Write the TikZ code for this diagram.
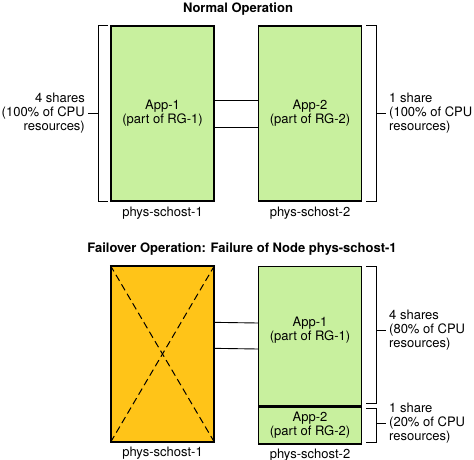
\documentclass[tikz,border=0pt]{standalone}
\usepackage{fontspec}
\setmainfont{TeX Gyre Heros}
\usetikzlibrary{positioning}
\definecolor{appgreen}{RGB}{200,240,158}
\definecolor{failorange}{RGB}{255,196,24}

\begin{document}
\begin{tikzpicture}[x=1pt, y=-1pt,
    every node/.style={font=\fontsize{13}{14}\selectfont, inner sep=0pt},
    hostbox/.style={draw, line width=1.3pt, fill=appgreen, minimum width=103pt, align=center},
    failbox/.style={hostbox, fill=failorange},
    title/.style={font=\fontsize{13}{14}\selectfont\bfseries},
    hostname/.style={below=5pt},
    bracketline/.style={line width=1pt},
    link/.style={line width=0.9pt}]
    \useasboundingbox (0,0) rectangle (474,460);

    % Normal operation
    \node[title] (title_normal) at (238,9) {Normal Operation};
    \node[hostbox, minimum height=175pt] (app1) at (162.5,113.5) {App-1\\(part of RG-1)};
    \node[hostbox, minimum height=175pt] (app2) at (310,113.5) {App-2\\(part of RG-2)};
    \node[hostname, below=5pt of app1] (host1) {phys-schost-1};
    \node[hostname, below=5pt of app2] (host2) {phys-schost-2};
    \draw[link] ([yshift=13.5pt]app1.east) -- ([yshift=13.5pt]app2.west);
    \draw[link] ([yshift=-13.5pt]app1.east) -- ([yshift=-13.5pt]app2.west);

    % brackets
    \draw[bracketline] (108,26) -- (98,26) -- (98,201) -- (108,201);
    \draw[bracketline] (98,113) -- (88,113);
    \draw[bracketline] (366,26) -- (376,26) -- (376,201) -- (366,201);
    \draw[bracketline] (376,113) -- (386,113);
    \node[anchor=east, align=right] (share_a1) at (85,113) {4 shares\\(100\% of CPU\\resources)};
    \node[anchor=west, align=left] (share_a2) at (389,113) {1 share\\(100\% of CPU\\resources)};

    % Failover operation
    \node[title] (title_fail) at (242,249) {Failover Operation: Failure of Node phys-schost-1};
    \node[failbox, minimum height=176pt] (dead) at (162.5,354) {};
    \draw[dashed, dash pattern=on 7pt off 4pt, line width=1pt] (dead.north west) -- (dead.south east);
    \draw[dashed, dash pattern=on 7pt off 4pt, line width=1pt] (dead.north east) -- (dead.south west);
    \node[hostbox, minimum height=139pt, anchor=north] (app1b) at (310,266) {};
    \node[hostbox, minimum height=37pt, anchor=north] (app2b) at (app1b.south) {App-2\\(part of RG-2)};
    \node[align=center] (app1b_text) at ([yshift=6pt]app1b.center) {App-1\\(part of RG-1)};
    \node[hostname, below=4pt of dead] (host1b) {phys-schost-1};
    \node[hostname, below=4pt of app2b] (host2b) {phys-schost-2};
    \draw[link] ([yshift=-57pt]dead.north east) -- ([yshift=-57pt]app1b.north west);
    \draw[link] ([yshift=-83pt]dead.north east) -- ([yshift=-83pt]app1b.north west);

    % brackets
    \draw[bracketline] (366,266) -- (376,266) -- (376,403) -- (366,403);
    \draw[bracketline] (376,330) -- (386,330);
    \draw[bracketline] (366,408) -- (376,408) -- (376,442) -- (366,442);
    \draw[bracketline] (376,423) -- (386,423);
    \node[anchor=west, align=left] (share_b1) at (389,330) {4 shares\\(80\% of CPU\\resources)};
    \node[anchor=west, align=left] (share_b2) at (389,423) {1 share\\(20\% of CPU\\resources)};
\end{tikzpicture}
\end{document}
